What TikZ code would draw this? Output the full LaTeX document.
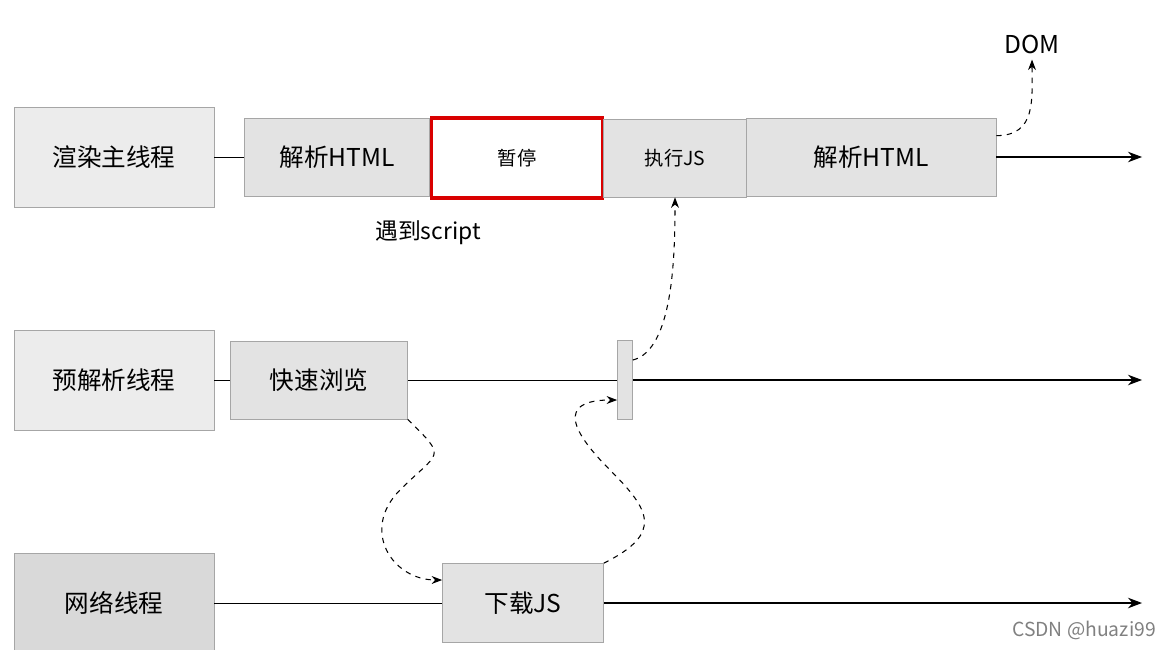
\documentclass[tikz,border=0pt]{standalone}
\usepackage{fontspec}
\setmainfont{Noto Sans CJK SC}
\usetikzlibrary{arrows.meta, positioning}

\begin{document}
\begin{tikzpicture}[
        x=0.02cm, y=-0.02cm,
        % Node styles
        thread/.style={rectangle, draw=gray!70, fill=gray!18, minimum width=4cm,
                        minimum height=2cm, font=\fontsize{14}{16}\selectfont},
        task/.style={rectangle, draw=gray!70, fill=gray!22, minimum height=1.56cm,
                        font=\fontsize{14}{16}\selectfont, inner sep=0pt},
        arrow/.style={->, >={Stealth[length=8pt]}, semithick},
        flow/.style={->, >={Stealth[length=6pt]}, dashed, semithick}
    ]
        \useasboundingbox (0,0) rectangle (1165,649);
        % Thread labels
        \node[thread, fill=gray!15] (mainthread) at (114,157) {渲染主线程};
        \node[thread, fill=gray!15] (prethread) at (114,380) {预解析线程};
        \node[thread, fill=gray!30] (netthread) at (114,603) {网络线程};
        
        % Main thread tasks
        \node[task, minimum width=3.7cm] (parse) at (337,157) {解析HTML};
        \node[task, minimum width=3.42cm, minimum height=1.6cm, fill=white, draw=red!85!black, line width=2pt,
              font=\fontsize{11}{13}\selectfont] (pause) at (517,158) {暂停};
        \node[task, minimum width=2.86cm, font=\fontsize{11}{13}\selectfont] (execjs) at (675,158) {执行JS};
        \node[task, minimum width=5cm] (parsemore) at (871,157) {解析HTML};
        \node[font=\fontsize{14}{16}\selectfont] (dom) at (1032,44) {DOM};
        \node[font=\fontsize{13}{15}\selectfont] (script) at (428,233) {遇到script};
        
        % Preload thread tasks
        \node[task, minimum width=3.54cm] (scan) at (319,380) {快速浏览};
        \node[task, minimum width=0.3cm, minimum height=1.58cm] (mark) at (625,380) {};
        
        % Network thread tasks
        \node[task, minimum width=3.22cm, minimum height=1.58cm] (download) at (523,603) {下载JS};
        
        \node[text=gray, anchor=east, font=\fontsize{11}{13}\selectfont] (wm) at (1162,630) {CSDN @huazi99};
        
        % Time lines
        \coordinate (mainend) at (1142,157);
        \coordinate (preend) at (1142,380);
        \coordinate (netend) at (1142,603);
        \draw (mainthread.east) -- (parse.west);
        \draw[arrow] (parsemore.east) -- (mainend);
        \draw (prethread.east) -- (scan.west);
        \draw (scan.east) -- (mark.west);
        \draw[arrow] (mark.east) -- (preend);
        \draw (netthread.east) -- (download.west);
        \draw[arrow] (download.east) -- (netend);
        
        % Dashed hand-overs
        \draw[flow] (parsemore.north east) ++(0,18) .. controls +(40,0) and +(0,40) .. (dom.south);
        \draw[flow] (scan.south east) .. controls +(40,40) and +(40,-40) .. (400,490)
              .. controls +(-40,40) and +(-50,0) .. (download.west |- 0,580);
        \draw[flow] (download.north east) .. controls +(60,-30) and +(40,40) .. (610,470)
              .. controls +(-50,-50) and +(-50,0) .. (mark.west |- 0,400);
        \draw[flow] (mark.east |- 0,360) .. controls +(40,-10) and +(0,60) .. (execjs.south);
    \end{tikzpicture}
\end{document}
